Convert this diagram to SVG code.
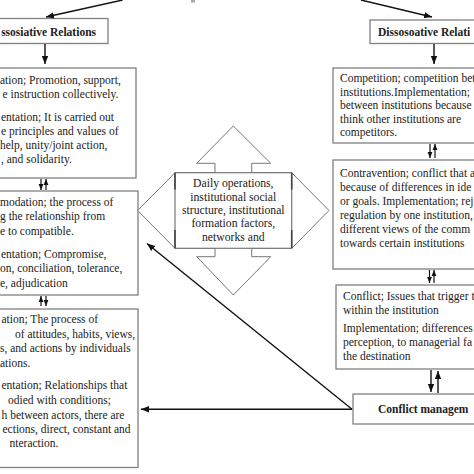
<svg xmlns="http://www.w3.org/2000/svg" width="474" height="474" viewBox="0 0 474 474">
<defs>
<style>
.box{fill:#fff;stroke:#808080;stroke-width:1.3}
.t{font-family:"Liberation Serif","Times New Roman",serif;font-size:11.5px;fill:#222}
.tb{font-family:"Liberation Serif","Times New Roman",serif;font-size:11.5px;font-weight:bold;fill:#222}
.tc{font-family:"Liberation Serif","Times New Roman",serif;font-size:11.7px;fill:#222;text-anchor:middle}
.ln{stroke:#111;stroke-width:1.4;fill:none}
.sl{stroke:#111;stroke-width:1.2;fill:none}
.shape{fill:#fff;stroke:#777;stroke-width:1}
</style>
<marker id="ah" viewBox="0 0 10 10" refX="10" refY="5" markerWidth="8" markerHeight="8" markerUnits="userSpaceOnUse" orient="auto"><path d="M0,1 L10,5 L0,9 z" fill="#111"/></marker>
<marker id="as" viewBox="0 0 10 10" refX="10" refY="5" markerWidth="6" markerHeight="6" markerUnits="userSpaceOnUse" orient="auto"><path d="M0,1 L10,5 L0,9 z" fill="#111"/></marker>
</defs>
<rect width="474" height="474" fill="#fff"/>
<rect x="191" y="0" width="4" height="2.5" fill="#aaa"/>

<g id="assoc-title">
<rect class="box" x="-2" y="18.5" width="110" height="25"/>
<text class="tb" x="96" y="35.5" text-anchor="end">ssosiative Relations</text>
</g>
<g id="assoc-1">
<rect class="box" x="-2" y="68" width="138" height="110"/>
<text class="t" x="0" y="83.5">ation; Promotion, support,</text>
<text class="t" x="2.5" y="97.5">e instruction collectively.</text>
<text class="t" x="1" y="120.5">entation; It is carried out</text>
<text class="t" x="1" y="134.5">e principles and values of</text>
<text class="t" x="0" y="148.5">help, unity/joint action,</text>
<text class="t" x="1" y="162.5">, and solidarity.</text>
</g>
<g id="assoc-2">
<rect class="box" x="-2" y="191" width="140" height="104"/>
<text class="t" x="0" y="205.5">modation; the process of</text>
<text class="t" x="0" y="220">g the relationship from</text>
<text class="t" x="0" y="234.5">e to compatible.</text>
<text class="t" x="1" y="257.5">entation; Compromise,</text>
<text class="t" x="0" y="272">on, conciliation, tolerance,</text>
<text class="t" x="0" y="286.5">e, adjudication</text>
</g>
<g id="assoc-3">
<rect class="box" x="-2" y="309" width="140" height="158.5"/>
<text class="t" x="1.5" y="323.3">ation; The process of</text>
<text class="t" x="15" y="338.3">of attitudes, habits, views,</text>
<text class="t" x="0" y="352.3">s, and actions by individuals</text>
<text class="t" x="0" y="367.3">ations.</text>
<text class="t" x="1.5" y="389">entation; Relationships that</text>
<text class="t" x="8" y="404">odied with conditions;</text>
<text class="t" x="1.5" y="419">h between actors, there are</text>
<text class="t" x="2.5" y="433.3">ections, direct, constant and</text>
<text class="t" x="9.5" y="447.3">nteraction.</text>
</g>

<g id="center">
<polygon class="shape" points="233.3,126 270.7,163.3 251.7,163.3 251.7,172.7 291.7,172.7 329,210.5 291.7,248.3 251.7,248.3 251.7,256.7 270.7,256.7 233.3,295 196.7,256.7 215,256.7 215,248.3 175,248.3 137.7,210.5 175,172.7 215,172.7 215,163.3 196.7,163.3"/>
<rect x="175" y="172.7" width="116.7" height="75.6" fill="#fff" stroke="#777" stroke-width="1.2"/>
<path d="M175,172.7V189.5M175,230V248.3M291.7,172.7V189.5M291.7,230V248.3" stroke="#444" stroke-width="1.6"/>
<text class="tc" x="233.3" y="187.3">Daily operations,</text>
<text class="tc" x="233.3" y="200.7">institutional social</text>
<text class="tc" x="233.3" y="214">structure, institutional</text>
<text class="tc" x="233.3" y="227.3">formation factors,</text>
<text class="tc" x="233.3" y="240.7">networks and</text>
</g>

<g id="dissoc-title">
<rect class="box" x="370" y="20" width="110" height="23.5"/>
<text class="tb" x="378" y="35.5">Dissosoative Relati</text>
</g>
<g id="dissoc-1">
<rect class="box" x="333" y="68" width="150" height="75"/>
<text class="t" x="340" y="82">Competition; competition bet</text>
<text class="t" x="340" y="95.5">institutions.Implementation;</text>
<text class="t" x="340" y="109">between institutions because</text>
<text class="t" x="340" y="122.5">think other institutions are</text>
<text class="t" x="340" y="136">competitors.</text>
</g>
<g id="dissoc-2">
<rect class="box" x="333" y="160" width="150" height="109"/>
<text class="t" x="340" y="176.5">Contravention; conflict that a</text>
<text class="t" x="340" y="190.5">because of differences in ide</text>
<text class="t" x="340" y="204.5">or goals. Implementation; rej</text>
<text class="t" x="340" y="218.5">regulation by one institution,</text>
<text class="t" x="340" y="232.5">different views of the comm</text>
<text class="t" x="340" y="246.5">towards certain institutions</text>
</g>
<g id="dissoc-3">
<rect class="box" x="336" y="285" width="147" height="84"/>
<text class="t" x="343" y="300">Conflict; Issues that trigger t</text>
<text class="t" x="343" y="313.5">within the institution</text>
<text class="t" x="343" y="331.5">Implementation; differences</text>
<text class="t" x="343" y="345.5">perception, to managerial fa</text>
<text class="t" x="343" y="359.5">the destination</text>
</g>
<g id="conflict-mgmt">
<rect class="box" x="353" y="394" width="130" height="30"/>
<text class="tb" x="378" y="413">Conflict managem</text>
</g>

<g id="connectors">
<line class="ln" x1="122.6" y1="0" x2="46" y2="17" marker-end="url(#ah)"/>
<line class="ln" x1="361" y1="0" x2="432" y2="17" marker-end="url(#ah)"/>
<line class="ln" x1="45" y1="44" x2="45" y2="64" marker-end="url(#ah)"/>
<line class="ln" x1="434" y1="44" x2="434" y2="64" marker-end="url(#ah)"/>
<line class="sl" x1="41" y1="179" x2="41" y2="190" marker-end="url(#as)"/>
<line class="sl" x1="46" y1="190" x2="46" y2="179" marker-end="url(#as)"/>
<line class="sl" x1="41" y1="306" x2="41" y2="296" marker-end="url(#as)"/>
<line class="sl" x1="46" y1="296" x2="46" y2="306" marker-end="url(#as)"/>
<line class="sl" x1="430" y1="144" x2="430" y2="158" marker-end="url(#as)"/>
<line class="sl" x1="435" y1="158" x2="435" y2="144" marker-end="url(#as)"/>
<line class="sl" x1="429.5" y1="270" x2="429.5" y2="283" marker-end="url(#as)"/>
<line class="sl" x1="434" y1="283" x2="434" y2="270" marker-end="url(#as)"/>
<line class="ln" x1="431" y1="370" x2="431" y2="392" marker-end="url(#ah)"/>
<line class="ln" x1="438" y1="393" x2="438" y2="371" marker-end="url(#ah)"/>
<line class="ln" x1="352" y1="409.3" x2="141" y2="409.3" marker-end="url(#ah)"/>
<line class="ln" x1="352" y1="409.3" x2="147" y2="243.5" marker-end="url(#ah)"/>
</g>
</svg>
